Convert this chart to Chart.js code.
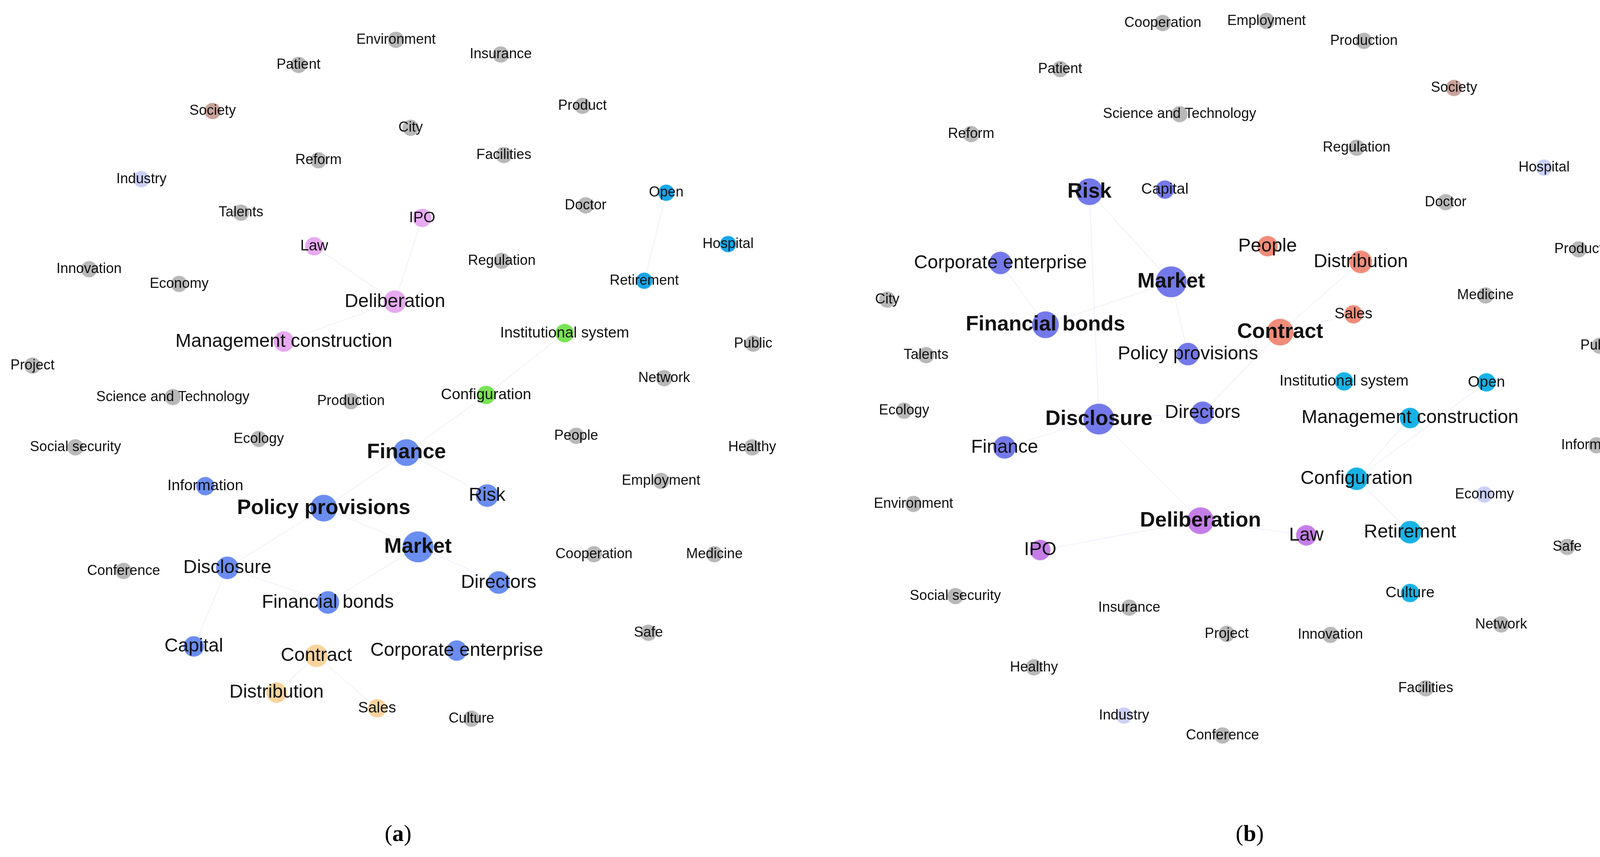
<!DOCTYPE html>
<html><head><meta charset="utf-8">
<script src="https://cdn.jsdelivr.net/npm/chart.js@4"></script>
<style>html,body{margin:0;padding:0;background:#fff}#w{width:4205px;height:2194px;position:relative}</style>
</head><body><div id="w"><canvas id="c"></canvas></div>
<script>
// Panel (a)
const aLabels=["Environment","Insurance","Patient","Society","Product","City","Reform","Facilities","Industry","Open","Doctor","Talents","IPO","Law","Hospital","Regulation","Innovation","Economy","Retirement","Deliberation","Institutional system","Management construction","Public","Project","Network","Science and Technology","Production","Configuration","Ecology","People","Finance","Healthy","Social security","Risk","Information","Employment","Policy provisions","Market","Disclosure","Directors","Cooperation","Medicine","Conference","Financial bonds","Safe","Capital","Contract","Corporate enterprise","Distribution","Sales","Culture"];
const aX=[378,478,285,203,556,392,304,481,135,636,559,230,403,300,695,479,85,171,615,377,539,271,719,31,634,165,335,464,247,550,388,718,72,465,196,631,309,399,217,476,567,682,118,313,619,185,302,436,264,360,450];
const aY=[38,52,62,106,101,122,153,148,171,184,196,203,208,235,233,249,257,271,268,288,318,326,328,349,361,379,383,377,419,416,432,427,427,473,464,459,485,522,542,556,529,529,545,575,604,617,626,621,661,676,686];
const aGroup=["g","g","g","s","g","g","g","g","l","c","g","g","p","p","c","g","g","g","c","p","n","p","g","g","g","g","g","n","g","g","b","g","g","b","b","g","b","b","b","b","g","g","g","b","g","b","o","b","o","o","g"];
const aWeight=[1,1,1,1,1,1,1,1,1,1,1,1,2,2,1,1,1,1,1,4,2,3,1,1,1,1,1,2,1,1,5,1,1,4,2,1,5,6,4,4,1,1,1,4,1,3,4,3,3,2,1];
// Panel (b)
const bLabels=["Cooperation","Employment","Production","Patient","Society","Science and Technology","Reform","Regulation","Hospital","Risk","Capital","Doctor","People","Product","Corporate enterprise","Distribution","Market","City","Medicine","Sales","Financial bonds","Contract","Talents","Public","Policy provisions","Institutional system","Open","Ecology","Directors","Disclosure","Management construction","Information","Finance","Configuration","Environment","Economy","Deliberation","Law","Retirement","IPO","Safe","Social security","Culture","Insurance","Project","Innovation","Network","Facilities","Healthy","Industry","Conference"];
const bX=[1110,1209,1302,1012,1388,1126,927,1295,1474,1040,1112,1380,1210,1507,955,1299,1118,847,1418,1292,998,1222,884,1527,1134,1283,1419,863,1148,1049,1346,1524,959,1295,872,1417,1146,1247,1346,993,1496,912,1346,1078,1171,1270,1433,1361,987,1073,1167];
const bY=[22,20,39,66,84,109,128,141,160,183,181,193,235,238,251,250,269,286,282,300,310,317,339,330,338,364,365,392,394,400,399,425,427,457,481,472,497,511,508,525,522,569,566,580,605,606,596,657,637,683,702];
const bGroup=["g","g","g","g","s","g","g","g","l","v","v","g","r","g","v","r","v","g","g","r","v","r","g","g","v","c","c","g","v","v","c","g","v","c","g","l","u","u","c","u","g","g","c","g","g","g","g","g","g","l","g"];
const bWeight=[1,1,1,1,1,1,1,1,1,5,2,1,3,1,4,4,6,1,1,2,5,5,1,1,4,2,2,1,4,6,3,1,4,4,1,1,5,3,4,3,1,1,2,1,1,1,1,1,1,1,1];
const panelTags=["a","b"];const tagX=[380,1193];const tagY=[797,797];
const aEdges=[["Law","Deliberation"],["IPO","Deliberation"],["Deliberation","Management construction"],["Finance","Policy provisions"],["Market","Policy provisions"],["Market","Directors"],["Disclosure","Financial bonds"],["Finance","Configuration"],["Configuration","Institutional system"],["Open","Retirement"],["Contract","Sales"],["Contract","Distribution"],["Market","Financial bonds"],["Disclosure","Capital"],["Finance","Risk"],["Policy provisions","Disclosure"]];
const bEdges=[["Risk","Market"],["Market","Financial bonds"],["Disclosure","Finance"],["Disclosure","Directors"],["Policy provisions","Market"],["Contract","Sales"],["Contract","Distribution"],["Configuration","Retirement"],["Deliberation","Law"],["Deliberation","Disclosure"],["Corporate enterprise","Financial bonds"],["Management construction","Configuration"],["Directors","Contract"],["Risk","Disclosure"],["Configuration","Open"],["IPO","Deliberation"]];

const K=4205/1568;
const colA={g:"#b8b8b8",s:"#c9a39b",l:"#cbd0f7",c:"#18a6ea",p:"#e7a9f0",n:"#78e453",b:"#6a8df0",o:"#f8d49c"};
const colB={g:"#b8b8b8",s:"#c9a39b",l:"#cbd0f7",c:"#18b3e6",v:"#7479ea",r:"#f08c79",u:"#c57de8"};
function rad(w){return [8,8,9,10,11,13,15][w]*K;}
function fs(w){return w>=5?20:(w>=3?18:(w>=2?14.5:13.5));}
function pts(L,X,Y){return L.map((l,i)=>({x:X[i],y:Y[i]}));}
function edgeSets(E,L,X,Y){return E.map(e=>{const i=L.indexOf(e[0]),j=L.indexOf(e[1]);return {type:'line',data:[{x:X[i],y:Y[i]},{x:X[j],y:Y[j]}],borderColor:'rgba(140,150,230,0.14)',borderWidth:2,pointRadius:0,fill:false,order:5};});}
const labelPlugin={id:'lbl',afterDatasetsDraw(ch){const ctx=ch.ctx;
 [[0,aLabels,aWeight,false],[1,bLabels,bWeight,true]].forEach(([di,L,W,bb])=>{const m=ch.getDatasetMeta(di);
  m.data.forEach((p,i)=>{const w=W[i];const bold=(bb&&w>=5)||(!bb&&w>=5);ctx.font=(bold?'bold ':'')+(fs(w)*K)+'px "Liberation Sans", Arial, sans-serif';
   ctx.fillStyle='#111';ctx.textAlign='center';ctx.textBaseline='middle';ctx.fillText(L[i],p.x,p.y);});});
 const xs=ch.scales.x,ys=ch.scales.y;ctx.fillStyle='#000';ctx.textBaseline='middle';
 panelTags.forEach((t,i)=>{const cx=xs.getPixelForValue(tagX[i]),cy=ys.getPixelForValue(tagY[i]);
  ctx.font=(22*K)+'px "Liberation Serif", serif';const pw=ctx.measureText('(').width;
  ctx.font='bold '+(22*K)+'px "Liberation Serif", serif';const tw=ctx.measureText(t).width;
  const x0=cx-(2*pw+tw)/2;ctx.textAlign='left';
  ctx.font=(22*K)+'px "Liberation Serif", serif';ctx.fillText('(',x0,cy);ctx.fillText(')',x0+pw+tw,cy);
  ctx.font='bold '+(22*K)+'px "Liberation Serif", serif';ctx.fillText(t,x0+pw,cy);});}};
new Chart(document.getElementById('c'),{type:'scatter',
 data:{datasets:[
  {data:pts(aLabels,aX,aY),pointRadius:aWeight.map(rad),pointBackgroundColor:aGroup.map(g=>colA[g]),pointBorderColor:'rgba(255,255,255,0.6)',pointBorderWidth:2,order:1},
  {data:pts(bLabels,bX,bY),pointRadius:bWeight.map(rad),pointBackgroundColor:bGroup.map(g=>colB[g]),pointBorderColor:'rgba(255,255,255,0.6)',pointBorderWidth:2,order:1},
  ...edgeSets(aEdges,aLabels,aX,aY),...edgeSets(bEdges,bLabels,bX,bY)]},
 options:{responsive:true,maintainAspectRatio:false,animation:false,
  layout:{padding:0,autoPadding:false},clip:false,
  plugins:{legend:{display:false},tooltip:{enabled:false}},
  scales:{x:{type:'linear',min:0,max:1568,display:false},y:{type:'linear',min:0,max:818,reverse:true,display:false}}},
 plugins:[labelPlugin]});
</script></body></html>
